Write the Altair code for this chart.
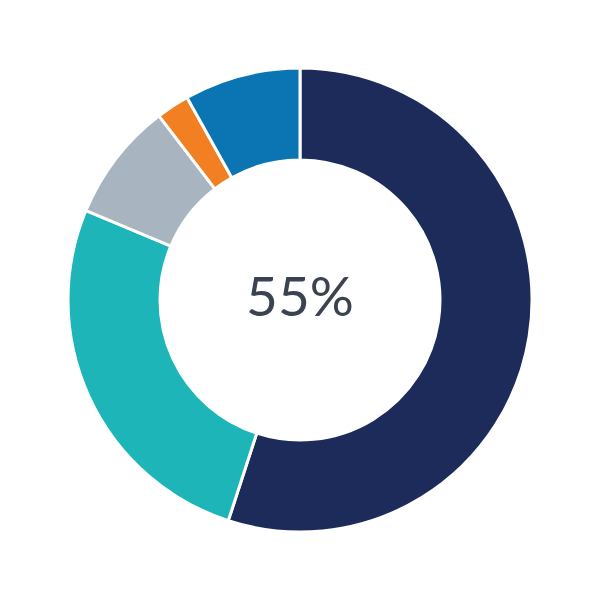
import altair as alt
import pandas as pd

categories = ["A", "B", "C", "D", "E"]
values = [55, 26.3, 8.3, 2.3, 8.1]
colors = ["#1c2b5a", "#1db5b7", "#a9b4c1", "#f28022", "#0b75b3"]
order = [0, 1, 2, 3, 4]
center_label = "55%"

df = pd.DataFrame({"cat": categories, "value": values, "order": order})

arcs = alt.Chart(df).mark_arc(
    outerRadius=232, innerRadius=140, stroke="white", strokeWidth=3
).encode(
    theta=alt.Theta("value:Q", stack=True),
    order=alt.Order("order:Q"),
    color=alt.Color("cat:N", scale=alt.Scale(domain=categories, range=colors), legend=None),
    x=alt.value(292),
    y=alt.value(292),
)

text = alt.Chart(pd.DataFrame({"t": [center_label]})).mark_text(
    font="Lato", fontSize=55, color="#3b4250", baseline="alphabetic", align="center"
).encode(
    text="t:N",
    x=alt.value(292),
    y=alt.value(308),
)

chart = alt.layer(arcs, text).properties(
    width=584, height=584, padding=0,
    autosize=alt.AutoSizeParams(type="none"),
).configure_view(stroke=None)

chart.save("out.html", embed_options={"renderer": "svg", "actions": False})
